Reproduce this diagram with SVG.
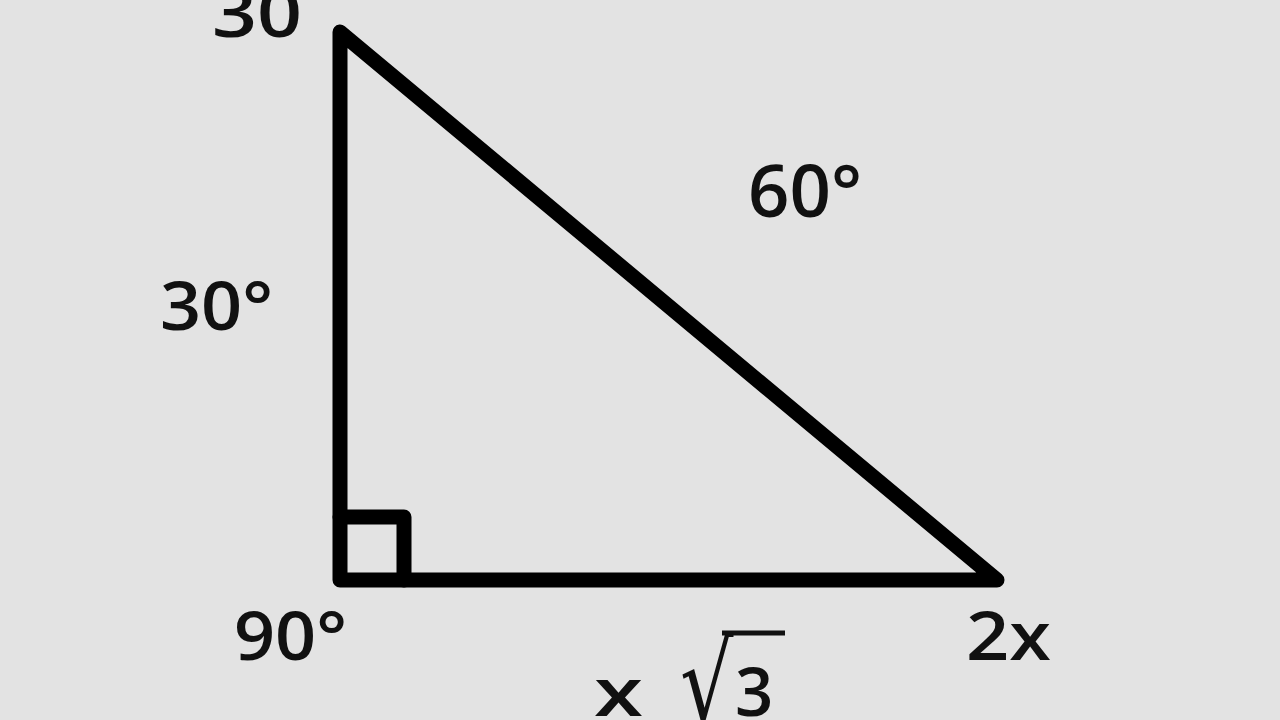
<svg xmlns="http://www.w3.org/2000/svg" width="1280" height="720" viewBox="0 0 1280 720">
  <style>
    .bg { fill: #e3e3e3; }
    .edge { fill: none; stroke: #000; stroke-width: 15; stroke-linejoin: round; stroke-linecap: round; }
    .lbl { font-family: "Open Sans", "Liberation Sans", sans-serif; font-weight: 600; fill: #111; font-size: 67px; }
    .big { font-size: 72px; }
    .rad { font-family: "DejaVu Sans", sans-serif; font-size: 84px; fill: #111; }
  </style>
  <rect class="bg" x="0" y="0" width="1280" height="720"/>
  <g id="triangle">
    <polygon class="edge" points="340,32 340,580 997,580"/>
    <polyline class="edge" points="340,517 404,517 404,580"/>
  </g>
  <g id="labels">
    <text class="lbl" x="212" y="37" textLength="90" lengthAdjust="spacingAndGlyphs">30</text>
    <text class="lbl" x="160" y="330" textLength="113" lengthAdjust="spacingAndGlyphs">30°</text>
    <text class="lbl big" x="748" y="217" textLength="114" lengthAdjust="spacingAndGlyphs">60°</text>
    <text class="lbl" x="234" y="660" textLength="113" lengthAdjust="spacingAndGlyphs">90°</text>
    <text class="lbl" x="966" y="660" textLength="85" lengthAdjust="spacingAndGlyphs">2x</text>
    <text class="lbl" x="594" y="716" textLength="49" lengthAdjust="spacingAndGlyphs">x</text>
    <text class="rad" transform="translate(680,722) scale(1,1.33)" x="0" y="0">√</text>
    <line x1="722" y1="633" x2="785" y2="633" stroke="#111" stroke-width="5"/>
    <text class="lbl" x="735" y="716">3</text>
  </g>
</svg>
